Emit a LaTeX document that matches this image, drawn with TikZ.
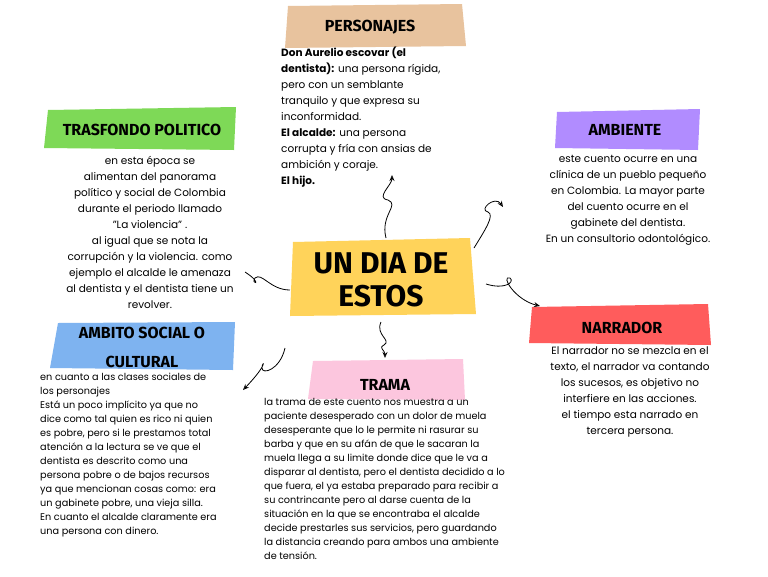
\documentclass[tikz,border=0pt]{standalone}
\usepackage{fontspec}
\setmainfont{Poppins}
\newfontfamily\titlefont{Fira Sans}
\usetikzlibrary{arrows.meta}
\definecolor{tan}{HTML}{E8C39E}
\definecolor{grn}{HTML}{7ED957}
\definecolor{pur}{HTML}{B18CFF}
\definecolor{yel}{HTML}{FFD35A}
\definecolor{rd}{HTML}{FF5C5C}
\definecolor{blu}{HTML}{7EB3F0}
\definecolor{pnk}{HTML}{FCC6DE}
\tikzset{
 ttl/.style={font=\titlefont\bfseries\fontsize{16}{29}\selectfont, align=center},
 body/.style={font=\fontsize{10.5}{16}\selectfont, inner sep=0pt},
 small/.style={font=\fontsize{9.7}{14}\selectfont, inner sep=0pt},
 conn/.style={line width=0.8pt, -{Stealth[length=6pt,width=5pt,open]}},
 conn0/.style={line width=0.8pt}
}
\begin{document}
\begin{tikzpicture}[x=1pt,y=-1pt]
\useasboundingbox (0,0) rectangle (768,576);
\fill[white] (0,0) rectangle (768,576);
% banners
\fill[tan] (288,6) -- (462,4) -- (466,46) -- (285,48) -- cycle;
\fill[grn] (48,110) -- (236,107) -- (234,150) -- (44,148) -- cycle;
\fill[pur] (557,112) -- (700,109) -- (698,150) -- (555,148) -- cycle;
\fill[yel] (293,242) -- (470,238) -- (476,314) -- (290,316) -- cycle;
\fill[rd] (532,307) -- (708,304) -- (711,345) -- (529,343) -- cycle;
\fill[blu] (58,323) -- (235,322) -- (233,370) -- (50,368) -- cycle;
\fill[pnk] (313,361) -- (463,359) -- (465,400) -- (308,399) -- cycle;
% titles
\node[ttl] (tp) at (370,27) {PERSONAJES};
\node[ttl] (tt) at (142,130) {TRASFONDO POLITICO};
\node[ttl] (ta) at (625,130) {AMBIENTE};
\node[ttl, font=\titlefont\bfseries\fontsize{30}{33}\selectfont] (tc) at (381,280) {UN DIA DE\\ESTOS};
\node[ttl] (tn) at (622,328) {NARRADOR};
\node[ttl] (tb) at (142,347) {AMBITO SOCIAL O\\CULTURAL};
\node[ttl] (tr) at (385,385) {TRAMA};
% texts
\node[body, anchor=north west, align=left] (bp) at (281,47) {\textbf{Don Aurelio escovar (el}\\\textbf{dentista):} una persona rígida,\\pero con un semblante\\tranquilo y que expresa su\\inconformidad.\\\textbf{El alcalde:} una persona\\corrupta y fría con ansias de\\ambición y coraje.\\\textbf{El hijo.}};
\node[body, anchor=north, align=center] (bt) at (150,156) {en esta época se\\alimentan del panorama\\político y social de Colombia\\durante el periodo llamado\\"La violencia" .\\al igual que se nota la\\corrupción y la violencia. como\\ejemplo el alcalde le amenaza\\al dentista y el dentista tiene un\\revolver.};
\node[body, anchor=north, align=center] (ba) at (628,155) {este cuento ocurre en una\\clínica de un  pueblo pequeño\\en Colombia. La mayor parte\\del cuento ocurre en el\\gabinete del dentista.\\En un consultorio odontológico.};
\node[body, anchor=north, align=center] (bn) at (630,347) {El narrador no se mezcla en el\\texto, el narrador va contando\\los sucesos, es objetivo no\\interfiere en las acciones.\\el tiempo esta narrado en\\tercera persona.};
\node[small, anchor=north west, align=left] (bb) at (40,373) {en cuanto a las clases sociales de\\los personajes\\Está un poco implícito ya que no\\dice como tal quien es rico ni quien\\es pobre, pero si le prestamos total\\atención a la lectura se ve que el\\dentista es descrito como una\\persona pobre o de bajos recursos\\ya que mencionan cosas como: era\\un gabinete pobre, una vieja silla.\\En cuanto el alcalde claramente era\\una persona con dinero.};
\node[small, anchor=north west, align=left] (br) at (264,398) {la trama de este cuento nos muestra a un\\paciente desesperado con un dolor de muela\\desesperante que lo le permite ni rasurar su\\barba y que en su afán de que le sacaran la\\muela llega a su limite donde dice que le va a\\disparar al dentista, pero el dentista decidido a lo\\que fuera, el ya estaba preparado para recibir a\\su contrincante pero al darse cuenta de la\\situación en la que se encontraba el alcalde\\decide prestarles sus servicios, pero guardando\\la distancia creando para ambos una ambiente\\de tensión.};
% connector coordinates
\coordinate (c1) at (386,238);
\coordinate (e1) at (392,175);
\coordinate (c2) at (474,248);
\coordinate (e2) at (503,207);
\coordinate (c3) at (486,284);
\coordinate (e3) at (540,306);
\coordinate (c4) at (381,322);
\coordinate (e4) at (385,358);
\coordinate (c5) at (290,290);
\coordinate (e5) at (245,272);
\coordinate (c6) at (285,348);
\coordinate (e6) at (243,390);
\draw[conn] (c1) .. controls (380,215) and (400,205) .. (388,200) .. controls (375,198) and (392,185) .. (e1);
\draw[conn] (c2) .. controls (485,230) and (495,215) .. (488,212) .. controls (478,210) and (495,195) .. (e2);
\draw[conn] (c3) .. controls (505,290) and (515,282) .. (510,278) .. controls (500,275) and (515,300) .. (e3);
\draw[conn] (c4) .. controls (375,335) and (392,340) .. (384,345) .. controls (378,348) and (385,350) .. (e4);
\draw[conn0] (c5) .. controls (270,290) and (262,272) .. (255,278) .. controls (250,285) and (265,285) .. (e5);
\draw[conn] (c6) .. controls (280,370) and (262,375) .. (262,368) .. controls (262,360) and (270,362) .. (e6);
\end{tikzpicture}
\end{document}
